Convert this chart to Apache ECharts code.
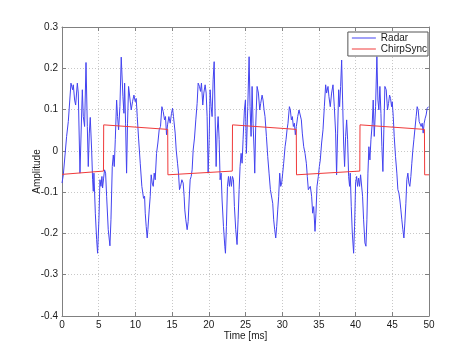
<!DOCTYPE html>
<html>
<head>
<meta charset="utf-8">
<script src="https://cdn.jsdelivr.net/npm/echarts@6/dist/echarts.min.js"></script>
<style>
html,body{margin:0;padding:0;background:#fff;}
#chart{width:474px;height:355px;}
</style>
</head>
<body>
<div id="chart"></div>
<script>
// ---- data ----
const radarT = [0,0.18,0.63,0.86,1.22,1.45,1.54,1.72,1.86,2.09,2.22,2.45,2.54,2.77,2.90,3.08,3.27,3.45,3.58,3.72,3.85,4.04,4.17,4.26,4.35,4.54,4.72,4.85,5.03,5.17,5.31,5.44,5.53,5.67,5.80,5.94,6.08,6.30,6.53,6.67,6.85,6.99,7.12,7.26,7.44,7.57,7.71,7.89,8.07,
8.30,8.44,8.53,8.66,8.80,8.93,9.07,9.25,9.43,9.61,9.80,9.98,10.11,10.25,10.43,10.66,10.88,11.11,11.25,11.34,11.47,11.61,11.70,11.88,12.02,12.15,12.29,12.43,12.56,12.70,12.88,13.06,13.24,13.42,13.61,13.79,13.97,14.10,14.24,14.38,14.56,14.74,14.92,15.06,15.19,15.42,15.56,15.74,15.87,16.01,16.15,16.33,16.51,16.64,
16.73,16.87,17.05,17.19,17.32,17.46,17.60,17.73,17.87,18.05,18.23,18.41,18.55,18.73,18.87,19.00,19.18,19.32,19.50,19.64,19.77,19.91,20.05,20.18,20.32,20.45,20.59,20.73,20.86,21.00,21.13,21.27,21.41,21.54,21.68,21.81,22.00,22.18,22.27,22.40,22.54,22.68,22.81,22.95,23.08,23.22,23.36,23.49,23.67,23.85,23.99,24.13,24.26,24.40,24.54,24.67,24.85,24.99,
25.12,25.31,25.49,25.62,25.76,25.90,26.03,26.17,26.26,26.39,26.58,26.76,26.94,27.07,27.26,27.39,27.53,27.66,27.85,28.03,28.21,28.39,28.57,28.71,28.84,28.98,29.12,29.25,29.39,29.52,29.66,29.80,29.93,30.07,30.20,30.39,30.52,30.66,30.79,30.98,31.11,31.25,31.38,31.52,31.66,31.79,31.93,32.11,32.29,32.47,32.61,32.74,32.93,33.11,33.29,33.42,33.56,
33.65,33.83,34.01,34.15,34.29,34.47,34.60,34.74,34.92,35.06,35.19,35.37,35.56,35.74,35.92,36.05,36.24,36.37,36.55,36.73,36.92,37.10,37.28,37.41,37.55,37.69,37.82,37.96,38.10,38.23,38.37,38.50,38.64,38.78,38.91,39.05,39.18,39.27,39.41,39.55,39.73,39.86,40.00,40.14,40.27,40.41,40.54,40.68,40.82,40.95,41.09,41.27,41.41,41.54,41.68,41.81,41.95,
42.09,42.27,42.40,42.54,42.72,42.90,43.04,43.17,43.31,43.45,43.58,43.72,43.85,43.99,44.17,44.35,44.49,44.63,44.76,44.90,44.99,45.13,45.26,45.44,45.62,45.76,45.90,46.03,46.17,46.30,46.44,46.58,46.71,46.85,46.98,47.12,47.26,47.39,47.53,47.66,47.80,47.94,48.07,48.25,48.39,48.53,48.66,48.80,48.93,49.07,49.21,49.34,49.48,49.61,49.75,49.93];
const radarV = [-0.078,-0.058,0.035,0.071,0.164,0.148,0.160,0.123,0.111,0.164,0.140,-0.054,-0.058,0.148,0.083,0.059,0.214,0.059,-0.038,0.043,0.081,0.002,-0.070,-0.098,-0.054,-0.151,-0.215,-0.248,-0.167,-0.070,-0.086,-0.062,-0.090,-0.066,-0.046,-0.054,-0.110,-0.191,-0.230,-0.167,-0.038,-0.010,-0.038,0.027,0.123,0.083,0.051,0.107,0.227,
0.131,0.091,0.164,0.067,-0.054,0.067,0.156,0.156,0.099,0.119,0.135,0.119,0.127,0.083,0.031,-0.030,-0.086,-0.115,-0.110,-0.151,-0.183,-0.211,-0.191,-0.143,-0.110,-0.058,-0.078,-0.086,-0.054,-0.070,-0.006,0.019,0.051,0.059,0.107,0.095,0.075,0.083,0.039,0.063,0.083,0.067,0.091,0.103,0.083,0.043,0.002,-0.030,-0.054,-0.094,-0.086,-0.070,-0.078,-0.110,
-0.143,-0.167,-0.191,-0.171,-0.119,-0.070,-0.062,-0.046,0.002,0.031,0.075,0.115,0.164,0.156,0.144,0.164,0.111,0.140,0.160,0.140,0.083,-0.054,0.027,0.148,0.107,0.083,0.172,0.216,0.083,-0.038,0.043,0.083,0.027,-0.070,-0.054,-0.119,-0.183,-0.231,-0.248,-0.183,-0.086,-0.062,-0.086,-0.062,-0.086,-0.062,-0.070,-0.135,-0.191,-0.227,-0.167,-0.094,-0.038,-0.006,-0.030,0.027,0.099,0.123,
-0.006,0.107,0.228,0.107,0.035,0.156,0.067,0.002,-0.054,0.059,0.156,0.140,0.099,0.115,0.135,0.123,0.099,0.083,0.035,-0.014,-0.054,-0.094,-0.098,-0.127,-0.167,-0.191,-0.211,-0.183,-0.143,-0.110,-0.054,-0.086,-0.078,-0.054,-0.030,0.010,0.027,0.051,0.067,0.107,0.099,0.075,0.083,0.059,0.067,0.039,0.059,0.083,0.099,0.103,0.075,0.043,0.010,-0.006,-0.030,-0.062,-0.094,
-0.094,-0.086,-0.110,-0.151,-0.135,-0.195,-0.151,-0.086,-0.062,-0.038,-0.022,0.019,0.051,0.107,0.160,0.140,0.156,0.131,0.107,0.140,0.160,0.107,0.043,-0.058,0.043,0.148,0.107,0.156,0.220,0.123,0.019,-0.038,0.035,0.075,0.027,-0.062,-0.086,-0.054,-0.135,-0.199,-0.248,-0.183,-0.078,-0.062,-0.086,-0.066,-0.086,-0.058,-0.054,-0.110,-0.167,-0.223,-0.231,-0.167,-0.054,0.010,-0.022,
0.027,0.067,0.123,0.035,0.107,0.228,0.123,0.099,0.156,0.091,0.010,-0.050,0.051,0.156,0.148,0.099,0.115,0.135,0.127,0.107,0.119,0.083,0.035,-0.014,-0.054,-0.094,-0.102,-0.119,-0.143,-0.167,-0.191,-0.211,-0.175,-0.127,-0.070,-0.054,-0.078,-0.086,-0.062,-0.030,0.002,0.027,0.051,0.083,0.107,0.099,0.071,0.075,0.059,0.067,0.043,0.067,0.079,0.087,0.103,0.107];
const syncT = [0,5.65,5.68,14.40,14.43,23.20,23.23,31.92,31.95,40.57,40.60,49.38,49.41,50];
const syncV = [-0.057,-0.049,0.063,0.052,-0.058,-0.049,0.063,0.052,-0.058,-0.049,0.063,0.052,-0.058,-0.058];
const xTicks = [0,5,10,15,20,25,30,35,40,45,50];
const yTicks = [-0.4,-0.3,-0.2,-0.1,0,0.1,0.2,0.3];
const seriesNames = ['Radar','ChirpSync'];
const xLabel = 'Time [ms]';
const yLabel = 'Amplitude';

const zip = (a,b) => a.map((t,i)=>[t,b[i]]);
const font = 'Liberation Sans, Arial, sans-serif';
const axisGray = '#808080';
const textCol = '#1a1a1a';
const radarCol = '#4343f0';
const syncCol = '#f03a3a';
const chart = echarts.init(document.getElementById('chart'), null, {renderer:'canvas'});
const fmtY = v => { const r = Math.round(v*10)/10; return r === 0 ? '0' : String(r); };
const lineIcon = 'path://M0,0H24V1H0Z';

const baseX = {
  type:'value', min:xTicks[0], max:xTicks[xTicks.length-1], interval:5,
  axisLine:{show:true, onZero:false, lineStyle:{color:axisGray, width:1}},
  axisTick:{show:true, inside:true, length:4, lineStyle:{color:axisGray}},
  splitLine:{show:false}
};
const baseY = {
  type:'value', min:yTicks[0], max:yTicks[yTicks.length-1], interval:0.1,
  axisLine:{show:true, onZero:false, lineStyle:{color:axisGray, width:1}},
  axisTick:{show:true, inside:true, length:4, lineStyle:{color:axisGray}},
  splitLine:{show:false}
};

chart.setOption({
  animation:false,
  backgroundColor:'#ffffff',
  grid:{left:62, right:45, top:27, bottom:39, show:false},
  legend:{
    data:[{name:seriesNames[0], icon:lineIcon}, {name:seriesNames[1], icon:lineIcon}],
    orient:'vertical', right:46, top:32,
    backgroundColor:'#ffffff', borderColor:'#555555', borderWidth:1, borderRadius:0,
    padding:[1,1,2,4], itemGap:1, itemWidth:24, itemHeight:10, symbolKeepAspect:true,
    textStyle:{fontFamily:font, fontSize:10, color:textCol}
  },
  xAxis:[
    Object.assign({}, baseX, {
      position:'bottom',
      name:xLabel, nameLocation:'middle', nameGap:15, nameMoveOverlap:false,
      nameTextStyle:{fontFamily:font, fontSize:10, color:textCol},
      axisLabel:{show:true, margin:4, fontFamily:font, fontSize:10, color:textCol},
      splitLine:{show:true, lineStyle:{color:'#c8c8c8', width:1, type:[1,2]}}
    }),
    Object.assign({}, baseX, {position:'top', axisLabel:{show:false}})
  ],
  yAxis:[
    Object.assign({}, baseY, {
      position:'left',
      name:yLabel, nameLocation:'middle', nameGap:20, nameMoveOverlap:false,
      nameTextStyle:{fontFamily:font, fontSize:10, color:textCol},
      axisLabel:{show:true, margin:4, fontFamily:font, fontSize:10, color:textCol, formatter:fmtY},
      splitLine:{show:true, lineStyle:{color:'#c8c8c8', width:1, type:[1,2]}}
    }),
    Object.assign({}, baseY, {position:'right', axisLabel:{show:false}})
  ],
  series:[
    {
      name:seriesNames[0], type:'line', xAxisIndex:0, yAxisIndex:0,
      data:zip(radarT, radarV), symbol:'none', showSymbol:false, smooth:false,
      lineStyle:{color:radarCol, width:1}, itemStyle:{color:radarCol}, z:2
    },
    {
      name:seriesNames[1], type:'line', xAxisIndex:0, yAxisIndex:0,
      data:zip(syncT, syncV), symbol:'none', showSymbol:false, smooth:false,
      lineStyle:{color:syncCol, width:1}, itemStyle:{color:syncCol}, z:3
    }
  ]
});
</script>
</body>
</html>
